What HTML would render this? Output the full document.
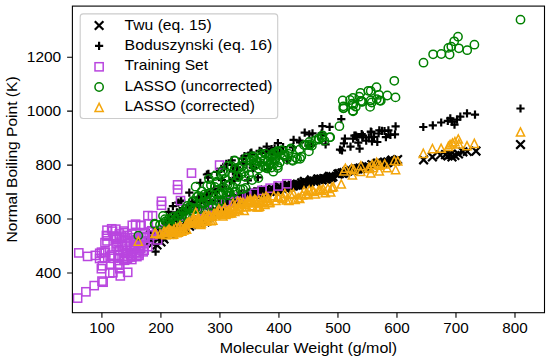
<!DOCTYPE html><html><head><meta charset="utf-8"><style>html,body{margin:0;padding:0;background:#fff;width:550px;height:360px;overflow:hidden}svg{display:block}text{font-family:"Liberation Sans",sans-serif}</style></head><body><svg width="550" height="360" viewBox="0 0 550 360"><rect width="550" height="360" fill="#fff"/><defs><clipPath id="c"><rect x="72.4" y="6.1" width="472.1" height="306.6"/></clipPath></defs><g clip-path="url(#c)"><g fill="none" stroke="#000000" stroke-width="2.2"><path d="M419.3 155.5L427.9 164.1M419.3 164.1L427.9 155.5"/><path d="M428.1 152.6L436.7 161.2M428.1 161.2L436.7 152.6"/><path d="M436.1 150.7L444.7 159.3M436.1 159.3L444.7 150.7"/><path d="M441.2 150.4L449.8 159.0M441.2 159.0L449.8 150.4"/><path d="M446.2 150.4L454.8 159.0M446.2 159.0L454.8 150.4"/><path d="M450.6 151.2L459.2 159.8M450.6 159.8L459.2 151.2"/><path d="M454.2 149.7L462.8 158.3M454.2 158.3L462.8 149.7"/><path d="M458.6 147.5L467.2 156.1M458.6 156.1L467.2 147.5"/><path d="M463.0 147.2L471.6 155.8M463.0 155.8L471.6 147.2"/><path d="M471.7 146.8L480.3 155.4M471.7 155.4L480.3 146.8"/><path d="M516.2 140.3L524.8 148.9M516.2 148.9L524.8 140.3"/><path d="M443.7 151.7L452.3 160.3M443.7 160.3L452.3 151.7"/><path d="M447.7 152.7L456.3 161.3M447.7 161.3L456.3 152.7"/><path d="M393.3 155.2L401.9 163.8M393.3 163.8L401.9 155.2"/><path d="M386.7 156.7L395.3 165.3M386.7 165.3L395.3 156.7"/><path d="M380.2 157.7L388.8 166.3M380.2 166.3L388.8 157.7"/><path d="M373.7 159.0L382.3 167.6M373.7 167.6L382.3 159.0"/><path d="M367.7 160.5L376.3 169.1M367.7 169.1L376.3 160.5"/><path d="M361.7 162.1L370.3 170.7M361.7 170.7L370.3 162.1"/><path d="M355.7 163.7L364.3 172.3M355.7 172.3L364.3 163.7"/><path d="M349.7 165.3L358.3 173.9M349.7 173.9L358.3 165.3"/><path d="M343.7 166.7L352.3 175.3M343.7 175.3L352.3 166.7"/><path d="M337.7 168.7L346.3 177.3M337.7 177.3L346.3 168.7"/><path d="M146.2 230.8L154.8 239.4M146.2 239.4L154.8 230.8"/><path d="M148.2 229.5L156.8 238.1M148.2 238.1L156.8 229.5"/><path d="M149.5 231.4L158.1 240.0M149.5 240.0L158.1 231.4"/><path d="M150.3 232.3L158.9 240.9M150.3 240.9L158.9 232.3"/><path d="M151.8 231.2L160.4 239.8M151.8 239.8L160.4 231.2"/><path d="M153.3 228.0L161.9 236.6M153.3 236.6L161.9 228.0"/><path d="M155.3 233.2L163.9 241.8M155.3 241.8L163.9 233.2"/><path d="M156.4 228.1L165.0 236.7M156.4 236.7L165.0 228.1"/><path d="M158.6 233.1L167.2 241.7M158.6 241.7L167.2 233.1"/><path d="M160.1 228.3L168.7 236.9M160.1 236.9L168.7 228.3"/><path d="M162.2 224.8L170.8 233.4M162.2 233.4L170.8 224.8"/><path d="M163.5 226.3L172.1 234.9M163.5 234.9L172.1 226.3"/><path d="M163.9 224.8L172.5 233.4M163.9 233.4L172.5 224.8"/><path d="M165.7 229.8L174.3 238.4M165.7 238.4L174.3 229.8"/><path d="M167.0 227.5L175.6 236.1M167.0 236.1L175.6 227.5"/><path d="M169.2 225.2L177.8 233.8M169.2 233.8L177.8 225.2"/><path d="M170.5 222.3L179.1 230.9M170.5 230.9L179.1 222.3"/><path d="M171.3 223.1L179.9 231.7M171.3 231.7L179.9 223.1"/><path d="M173.7 223.9L182.3 232.5M173.7 232.5L182.3 223.9"/><path d="M174.7 224.8L183.3 233.4M174.7 233.4L183.3 224.8"/><path d="M176.4 221.8L185.0 230.4M176.4 230.4L185.0 221.8"/><path d="M178.4 224.2L187.0 232.8M178.4 232.8L187.0 224.2"/><path d="M179.1 222.9L187.7 231.5M179.1 231.5L187.7 222.9"/><path d="M181.0 224.6L189.6 233.2M181.0 233.2L189.6 224.6"/><path d="M182.8 219.2L191.4 227.8M182.8 227.8L191.4 219.2"/><path d="M184.7 217.1L193.3 225.7M184.7 225.7L193.3 217.1"/><path d="M185.3 221.9L193.9 230.5M185.3 230.5L193.9 221.9"/><path d="M186.4 219.3L195.0 227.9M186.4 227.9L195.0 219.3"/><path d="M187.8 220.2L196.4 228.8M187.8 228.8L196.4 220.2"/><path d="M190.3 218.4L198.9 227.0M190.3 227.0L198.9 218.4"/><path d="M192.0 215.7L200.6 224.3M192.0 224.3L200.6 215.7"/><path d="M193.2 217.4L201.8 226.0M193.2 226.0L201.8 217.4"/><path d="M194.6 215.8L203.2 224.4M194.6 224.4L203.2 215.8"/><path d="M196.5 219.0L205.1 227.6M196.5 227.6L205.1 219.0"/><path d="M197.4 216.3L206.0 224.9M197.4 224.9L206.0 216.3"/><path d="M198.3 216.3L206.9 224.9M198.3 224.9L206.9 216.3"/><path d="M200.7 217.7L209.3 226.3M200.7 226.3L209.3 217.7"/><path d="M202.4 211.0L211.0 219.6M202.4 219.6L211.0 211.0"/><path d="M203.3 213.5L211.9 222.1M203.3 222.1L211.9 213.5"/><path d="M204.2 211.3L212.8 219.9M204.2 219.9L212.8 211.3"/><path d="M206.0 207.7L214.6 216.3M206.0 216.3L214.6 207.7"/><path d="M207.3 211.7L215.9 220.3M207.3 220.3L215.9 211.7"/><path d="M208.9 207.0L217.5 215.6M208.9 215.6L217.5 207.0"/><path d="M210.8 210.2L219.4 218.8M210.8 218.8L219.4 210.2"/><path d="M211.8 206.7L220.4 215.3M211.8 215.3L220.4 206.7"/><path d="M214.0 208.2L222.6 216.8M214.0 216.8L222.6 208.2"/><path d="M215.9 206.8L224.5 215.4M215.9 215.4L224.5 206.8"/><path d="M216.6 203.6L225.2 212.2M216.6 212.2L225.2 203.6"/><path d="M218.2 205.5L226.8 214.1M218.2 214.1L226.8 205.5"/><path d="M220.6 199.7L229.2 208.3M220.6 208.3L229.2 199.7"/><path d="M221.0 200.0L229.6 208.6M221.0 208.6L229.6 200.0"/><path d="M222.6 200.5L231.2 209.1M222.6 209.1L231.2 200.5"/><path d="M224.6 198.1L233.2 206.7M224.6 206.7L233.2 198.1"/><path d="M225.2 198.6L233.8 207.2M225.2 207.2L233.8 198.6"/><path d="M227.3 198.1L235.9 206.7M227.3 206.7L235.9 198.1"/><path d="M229.6 197.2L238.2 205.8M229.6 205.8L238.2 197.2"/><path d="M230.5 196.4L239.1 205.0M230.5 205.0L239.1 196.4"/><path d="M232.2 192.8L240.8 201.4M232.2 201.4L240.8 192.8"/><path d="M234.0 194.9L242.6 203.5M234.0 203.5L242.6 194.9"/><path d="M235.5 194.0L244.1 202.6M235.5 202.6L244.1 194.0"/><path d="M236.2 192.0L244.8 200.6M236.2 200.6L244.8 192.0"/><path d="M237.2 192.6L245.8 201.2M237.2 201.2L245.8 192.6"/><path d="M238.5 190.4L247.1 199.0M238.5 199.0L247.1 190.4"/><path d="M240.0 190.4L248.6 199.0M240.0 199.0L248.6 190.4"/><path d="M241.5 189.7L250.1 198.3M241.5 198.3L250.1 189.7"/><path d="M242.4 189.9L251.0 198.5M242.4 198.5L251.0 189.9"/><path d="M243.9 190.3L252.5 198.9M243.9 198.9L252.5 190.3"/><path d="M245.1 191.7L253.7 200.3M245.1 200.3L253.7 191.7"/><path d="M247.3 188.9L255.9 197.5M247.3 197.5L255.9 188.9"/><path d="M248.1 189.4L256.7 198.0M248.1 198.0L256.7 189.4"/><path d="M249.6 188.3L258.2 196.9M249.6 196.9L258.2 188.3"/><path d="M251.6 190.7L260.2 199.3M251.6 199.3L260.2 190.7"/><path d="M252.4 188.9L261.0 197.5M252.4 197.5L261.0 188.9"/><path d="M253.3 187.5L261.9 196.1M253.3 196.1L261.9 187.5"/><path d="M255.0 187.7L263.6 196.3M255.0 196.3L263.6 187.7"/><path d="M257.0 187.0L265.6 195.6M257.0 195.6L265.6 187.0"/><path d="M257.2 189.4L265.8 198.0M257.2 198.0L265.8 189.4"/><path d="M259.2 186.4L267.8 195.0M259.2 195.0L267.8 186.4"/><path d="M260.6 185.8L269.2 194.4M260.6 194.4L269.2 185.8"/><path d="M261.9 188.5L270.5 197.1M261.9 197.1L270.5 188.5"/><path d="M263.7 187.2L272.3 195.8M263.7 195.8L272.3 187.2"/><path d="M264.3 186.1L272.9 194.7M264.3 194.7L272.9 186.1"/><path d="M265.5 187.1L274.1 195.7M265.5 195.7L274.1 187.1"/><path d="M267.3 186.7L275.9 195.3M267.3 195.3L275.9 186.7"/><path d="M268.4 184.7L277.0 193.3M268.4 193.3L277.0 184.7"/><path d="M270.4 186.6L279.0 195.2M270.4 195.2L279.0 186.6"/><path d="M271.8 185.7L280.4 194.3M271.8 194.3L280.4 185.7"/><path d="M273.1 185.2L281.7 193.8M273.1 193.8L281.7 185.2"/><path d="M273.6 184.4L282.2 193.0M273.6 193.0L282.2 184.4"/><path d="M275.1 182.6L283.7 191.2M275.1 191.2L283.7 182.6"/><path d="M276.0 183.1L284.6 191.7M276.0 191.7L284.6 183.1"/><path d="M277.7 184.0L286.3 192.6M277.7 192.6L286.3 184.0"/><path d="M280.0 182.7L288.6 191.3M280.0 191.3L288.6 182.7"/><path d="M281.3 184.0L289.9 192.6M281.3 192.6L289.9 184.0"/><path d="M282.6 181.8L291.2 190.4M282.6 190.4L291.2 181.8"/><path d="M283.0 181.3L291.6 189.9M283.0 189.9L291.6 181.3"/><path d="M284.3 181.0L292.9 189.6M284.3 189.6L292.9 181.0"/><path d="M286.2 182.6L294.8 191.2M286.2 191.2L294.8 182.6"/><path d="M287.9 181.0L296.5 189.6M287.9 189.6L296.5 181.0"/><path d="M288.9 181.7L297.5 190.3M288.9 190.3L297.5 181.7"/><path d="M289.5 181.1L298.1 189.7M289.5 189.7L298.1 181.1"/><path d="M292.0 180.9L300.6 189.5M292.0 189.5L300.6 180.9"/><path d="M293.1 179.7L301.7 188.3M293.1 188.3L301.7 179.7"/><path d="M293.7 180.5L302.3 189.1M293.7 189.1L302.3 180.5"/><path d="M295.2 180.2L303.8 188.8M295.2 188.8L303.8 180.2"/><path d="M297.4 178.5L306.0 187.1M297.4 187.1L306.0 178.5"/><path d="M298.0 180.0L306.6 188.6M298.0 188.6L306.6 180.0"/><path d="M299.8 177.4L308.4 186.0M299.8 186.0L308.4 177.4"/><path d="M300.3 177.2L308.9 185.8M300.3 185.8L308.9 177.2"/><path d="M302.7 178.6L311.3 187.2M302.7 187.2L311.3 178.6"/><path d="M303.0 178.6L311.6 187.2M303.0 187.2L311.6 178.6"/><path d="M305.5 177.6L314.1 186.2M305.5 186.2L314.1 177.6"/><path d="M306.0 177.2L314.6 185.8M306.0 185.8L314.6 177.2"/><path d="M307.0 175.6L315.6 184.2M307.0 184.2L315.6 175.6"/><path d="M309.5 176.7L318.1 185.3M309.5 185.3L318.1 176.7"/><path d="M310.3 177.3L318.9 185.9M310.3 185.9L318.9 177.3"/><path d="M311.5 176.9L320.1 185.5M311.5 185.5L320.1 176.9"/><path d="M313.4 174.8L322.0 183.4M313.4 183.4L322.0 174.8"/><path d="M313.9 174.9L322.5 183.5M313.9 183.5L322.5 174.9"/><path d="M315.3 175.4L323.9 184.0M315.3 184.0L323.9 175.4"/><path d="M316.6 174.7L325.2 183.3M316.6 183.3L325.2 174.7"/><path d="M317.8 175.6L326.4 184.2M317.8 184.2L326.4 175.6"/><path d="M319.4 174.2L328.0 182.8M319.4 182.8L328.0 174.2"/><path d="M321.1 174.9L329.7 183.5M321.1 183.5L329.7 174.9"/><path d="M322.2 174.7L330.8 183.3M322.2 183.3L330.8 174.7"/><path d="M323.7 173.5L332.3 182.1M323.7 182.1L332.3 173.5"/><path d="M325.0 172.1L333.6 180.7M325.0 180.7L333.6 172.1"/><path d="M326.3 172.2L334.9 180.8M326.3 180.8L334.9 172.2"/><path d="M327.0 173.4L335.6 182.0M327.0 182.0L335.6 173.4"/><path d="M328.6 172.4L337.2 181.0M328.6 181.0L337.2 172.4"/><path d="M333.6 169.8L342.2 178.4M333.6 178.4L342.2 169.8"/><path d="M335.1 169.4L343.7 178.0M335.1 178.0L343.7 169.4"/><path d="M338.3 169.1L346.9 177.7M338.3 177.7L346.9 169.1"/><path d="M339.7 168.3L348.3 176.9M339.7 176.9L348.3 168.3"/><path d="M342.7 166.9L351.3 175.5M342.7 175.5L351.3 166.9"/><path d="M346.6 166.4L355.2 175.0M346.6 175.0L355.2 166.4"/><path d="M348.7 166.4L357.3 175.0M348.7 175.0L357.3 166.4"/><path d="M352.1 164.8L360.7 173.4M352.1 173.4L360.7 164.8"/><path d="M353.9 164.5L362.5 173.1M353.9 173.1L362.5 164.5"/><path d="M356.3 164.3L364.9 172.9M356.3 172.9L364.9 164.3"/><path d="M358.7 163.3L367.3 171.9M358.7 171.9L367.3 163.3"/><path d="M361.4 163.5L370.0 172.1M361.4 172.1L370.0 163.5"/><path d="M364.5 162.5L373.1 171.1M364.5 171.1L373.1 162.5"/><path d="M367.7 160.5L376.3 169.1M367.7 169.1L376.3 160.5"/><path d="M369.3 161.4L377.9 170.0M369.3 170.0L377.9 161.4"/><path d="M372.6 159.1L381.2 167.7M372.6 167.7L381.2 159.1"/><path d="M373.3 159.5L381.9 168.1M373.3 168.1L381.9 159.5"/><path d="M375.8 158.6L384.4 167.2M375.8 167.2L384.4 158.6"/><path d="M378.4 158.9L387.0 167.5M378.4 167.5L387.0 158.9"/><path d="M382.8 158.4L391.4 167.0M382.8 167.0L391.4 158.4"/><path d="M383.8 157.8L392.4 166.4M383.8 166.4L392.4 157.8"/><path d="M387.7 155.8L396.3 164.4M387.7 164.4L396.3 155.8"/><path d="M390.8 156.8L399.4 165.4M390.8 165.4L399.4 156.8"/><path d="M391.7 156.5L400.3 165.1M391.7 165.1L400.3 156.5"/><path d="M148.7 238.7L157.3 247.3M148.7 247.3L157.3 238.7"/><path d="M152.7 240.7L161.3 249.3M152.7 249.3L161.3 240.7"/><path d="M156.7 237.7L165.3 246.3M156.7 246.3L165.3 237.7"/><path d="M159.7 234.7L168.3 243.3M159.7 243.3L168.3 234.7"/><path d="M145.7 236.7L154.3 245.3M145.7 245.3L154.3 236.7"/></g><g fill="none" stroke="#000000" stroke-width="2.2"><path d="M419.2 127.0H427.4M423.3 122.9V131.1"/><path d="M428.7 125.3H436.9M432.8 121.2V129.4"/><path d="M437.1 122.5H445.3M441.2 118.4V126.6"/><path d="M443.7 120.8H451.9M447.8 116.7V124.9"/><path d="M446.2 118.3H454.4M450.3 114.2V122.4"/><path d="M447.9 121.7H456.1M452.0 117.6V125.8"/><path d="M450.4 124.7H458.6M454.5 120.6V128.8"/><path d="M452.9 119.7H461.1M457.0 115.6V123.8"/><path d="M456.2 116.7H464.4M460.3 112.6V120.8"/><path d="M462.9 113.3H471.1M467.0 109.2V117.4"/><path d="M470.9 114.7H479.1M475.0 110.6V118.8"/><path d="M516.4 108.5H524.6M520.5 104.4V112.6"/><path d="M337.2 119.2H345.4M341.3 115.1V123.3"/><path d="M391.5 126.4H399.7M395.6 122.3V130.5"/><path d="M390.9 134.3H399.1M395.0 130.2V138.4"/><path d="M384.3 130.3H392.5M388.4 126.2V134.4"/><path d="M380.4 131.0H388.6M384.5 126.9V135.1"/><path d="M375.2 130.3H383.4M379.3 126.2V134.4"/><path d="M366.7 131.6H374.9M370.8 127.5V135.7"/><path d="M358.8 135.6H367.0M362.9 131.5V139.7"/><path d="M350.3 135.6H358.5M354.4 131.5V139.7"/><path d="M337.9 150.5H346.1M342.0 146.4V154.6"/><path d="M339.8 143.3H348.0M343.9 139.2V147.4"/><path d="M346.4 146.6H354.6M350.5 142.5V150.7"/><path d="M349.0 138.7H357.2M353.1 134.6V142.8"/><path d="M351.6 135.5H359.8M355.7 131.4V139.6"/><path d="M354.2 142.7H362.4M358.3 138.6V146.8"/><path d="M355.5 148.6H363.7M359.6 144.5V152.7"/><path d="M358.2 137.4H366.4M362.3 133.3V141.5"/><path d="M362.1 140.7H370.3M366.2 136.6V144.8"/><path d="M364.7 137.4H372.9M368.8 133.3V141.5"/><path d="M367.3 132.2H375.5M371.4 128.1V136.3"/><path d="M369.9 136.8H378.1M374.0 132.7V140.9"/><path d="M373.2 142.0H381.4M377.3 137.9V146.1"/><path d="M374.5 133.5H382.7M378.6 129.4V137.6"/><path d="M377.8 130.9H386.0M381.9 126.8V135.0"/><path d="M318.3 126.2H326.5M322.4 122.1V130.3"/><path d="M325.5 126.8H333.7M329.6 122.7V130.9"/><path d="M300.6 132.7H308.8M304.7 128.6V136.8"/><path d="M305.2 134.3H313.4M309.3 130.2V138.4"/><path d="M308.4 133.4H316.6M312.5 129.3V137.5"/><path d="M317.6 133.4H325.8M321.7 129.3V137.5"/><path d="M289.5 139.9H297.7M293.6 135.8V144.0"/><path d="M295.4 140.6H303.6M299.5 136.5V144.7"/><path d="M273.8 143.2H282.0M277.9 139.1V147.3"/><path d="M321.5 144.4H329.7M325.6 140.3V148.5"/><path d="M296.0 142.4H304.2M300.1 138.3V146.5"/><path d="M270.5 148.3H278.7M274.6 144.2V152.4"/><path d="M279.0 147.0H287.2M283.1 142.9V151.1"/><path d="M335.9 149.6H344.1M340.0 145.5V153.7"/><path d="M267.2 151.0H275.4M271.3 146.9V155.1"/><path d="M240.4 156.2H248.6M244.5 152.1V160.3"/><path d="M255.5 150.9H263.7M259.6 146.8V155.0"/><path d="M212.9 171.9H221.1M217.0 167.8V176.0"/><path d="M151.5 251.7H159.7M155.6 247.6V255.8"/><path d="M168.8 206.2H177.0M172.9 202.1V210.3"/><path d="M176.8 201.1H185.0M180.9 197.0V205.2"/><path d="M164.5 211.8H172.7M168.6 207.7V215.9"/><path d="M174.2 202.7H182.4M178.3 198.6V206.8"/><path d="M177.1 200.6H185.3M181.2 196.5V204.7"/><path d="M185.2 192.7H193.4M189.3 188.6V196.8"/><path d="M196.2 182.9H204.4M200.3 178.8V187.0"/><path d="M202.8 174.5H211.0M206.9 170.4V178.6"/><path d="M203.9 177.7H212.1M208.0 173.6V181.8"/><path d="M217.2 168.9H225.4M221.3 164.8V173.0"/><path d="M222.2 163.9H230.4M226.3 159.8V168.0"/><path d="M227.9 164.8H236.1M232.0 160.7V168.9"/><path d="M238.1 158.5H246.3M242.2 154.4V162.6"/><path d="M246.3 153.3H254.5M250.4 149.2V157.4"/><path d="M247.3 152.7H255.5M251.4 148.6V156.8"/><path d="M257.4 151.6H265.6M261.5 147.5V155.7"/><path d="M267.5 149.0H275.7M271.6 144.9V153.1"/><path d="M162.0 224.0H170.2M166.1 219.9V228.1"/><path d="M163.3 221.9H171.5M167.4 217.8V226.0"/><path d="M164.3 222.8H172.5M168.4 218.7V226.9"/><path d="M166.3 222.7H174.5M170.4 218.6V226.8"/><path d="M168.6 216.9H176.8M172.7 212.8V221.0"/><path d="M169.4 216.0H177.6M173.5 211.9V220.1"/><path d="M172.0 217.9H180.2M176.1 213.8V222.0"/><path d="M172.8 212.4H181.0M176.9 208.3V216.5"/><path d="M175.1 215.2H183.3M179.2 211.1V219.3"/><path d="M176.5 211.2H184.7M180.6 207.1V215.3"/><path d="M178.6 208.0H186.8M182.7 203.9V212.1"/><path d="M179.7 211.3H187.9M183.8 207.2V215.4"/><path d="M182.5 211.4H190.7M186.6 207.3V215.5"/><path d="M184.0 208.9H192.2M188.1 204.8V213.0"/><path d="M184.6 206.2H192.8M188.7 202.1V210.3"/><path d="M187.5 209.2H195.7M191.6 205.1V213.3"/><path d="M188.1 201.6H196.3M192.2 197.5V205.7"/><path d="M190.1 207.4H198.3M194.2 203.3V211.5"/><path d="M191.6 201.8H199.8M195.7 197.7V205.9"/><path d="M193.7 208.3H201.9M197.8 204.2V212.4"/><path d="M194.6 197.3H202.8M198.7 193.2V201.4"/><path d="M196.5 200.7H204.7M200.6 196.6V204.8"/><path d="M198.7 196.5H206.9M202.8 192.4V200.6"/><path d="M200.6 202.8H208.8M204.7 198.7V206.9"/><path d="M201.7 194.5H209.9M205.8 190.4V198.6"/><path d="M204.2 194.5H212.4M208.3 190.4V198.6"/><path d="M205.6 192.3H213.8M209.7 188.2V196.4"/><path d="M206.3 200.6H214.5M210.4 196.5V204.7"/><path d="M208.1 203.2H216.3M212.2 199.1V207.3"/><path d="M210.1 188.5H218.3M214.2 184.4V192.6"/><path d="M211.3 192.0H219.5M215.4 187.9V196.1"/><path d="M213.7 201.2H221.9M217.8 197.1V205.3"/><path d="M214.5 189.6H222.7M218.6 185.5V193.7"/><path d="M216.3 200.8H224.5M220.4 196.7V204.9"/><path d="M217.8 180.2H226.0M221.9 176.1V184.3"/><path d="M219.3 186.7H227.5M223.4 182.6V190.8"/><path d="M222.4 196.6H230.6M226.5 192.5V200.7"/><path d="M223.8 198.9H232.0M227.9 194.8V203.0"/><path d="M225.8 181.2H234.0M229.9 177.1V185.3"/><path d="M226.2 196.5H234.4M230.3 192.4V200.6"/><path d="M228.8 171.3H237.0M232.9 167.2V175.4"/><path d="M230.3 179.7H238.5M234.4 175.6V183.8"/><path d="M231.5 177.7H239.7M235.6 173.6V181.8"/><path d="M232.8 167.4H241.0M236.9 163.3V171.5"/><path d="M234.7 176.3H242.9M238.8 172.2V180.4"/><path d="M239.1 162.6H247.3M243.2 158.5V166.7"/><path d="M242.4 163.9H250.6M246.5 159.8V168.0"/><path d="M243.8 180.4H252.0M247.9 176.3V184.5"/><path d="M248.6 167.5H256.8M252.7 163.4V171.6"/><path d="M249.4 168.2H257.6M253.5 164.1V172.3"/><path d="M253.8 177.3H262.0M257.9 173.2V181.4"/><path d="M256.5 162.5H264.7M260.6 158.4V166.6"/><path d="M262.2 152.8H270.4M266.3 148.7V156.9"/><path d="M263.9 169.1H272.1M268.0 165.0V173.2"/><path d="M268.5 151.1H276.7M272.6 147.0V155.2"/><path d="M269.3 151.2H277.5M273.4 147.1V155.3"/><path d="M275.6 152.7H283.8M279.7 148.6V156.8"/><path d="M283.1 160.5H291.3M287.2 156.4V164.6"/><path d="M288.8 147.3H297.0M292.9 143.2V151.4"/><path d="M304.3 145.6H312.5M308.4 141.5V149.7"/><path d="M307.2 145.6H315.4M311.3 141.5V149.7"/><path d="M317.3 134.8H325.5M321.4 130.7V138.9"/><path d="M340.8 138.6H349.0M344.9 134.5V142.7"/><path d="M352.7 136.9H360.9M356.8 132.8V141.0"/><path d="M357.6 134.0H365.8M361.7 129.9V138.1"/><path d="M367.9 141.3H376.1M372.0 137.2V145.4"/><path d="M381.8 137.1H390.0M385.9 133.0V141.2"/><path d="M386.3 134.8H394.5M390.4 130.7V138.9"/><path d="M219.8 168.1H228.0M223.9 164.0V172.2"/><path d="M227.6 160.3H235.8M231.7 156.2V164.4"/><path d="M247.1 154.5H255.3M251.2 150.4V158.6"/><path d="M262.6 146.7H270.8M266.7 142.6V150.8"/><path d="M204.3 173.9H212.5M208.4 169.8V178.0"/></g><g fill="none" stroke="#b945df" stroke-width="1.5"><rect x="215.5" y="161.0" width="8.2" height="8.2"/><rect x="187.4" y="169.0" width="8.2" height="8.2"/><rect x="173.5" y="180.8" width="8.2" height="8.2"/><rect x="173.5" y="185.4" width="8.2" height="8.2"/><rect x="157.4" y="197.2" width="8.2" height="8.2"/><rect x="157.4" y="201.1" width="8.2" height="8.2"/><rect x="176.4" y="196.5" width="8.2" height="8.2"/><rect x="143.8" y="211.5" width="8.2" height="8.2"/><rect x="148.4" y="211.7" width="8.2" height="8.2"/><rect x="282.7" y="179.7" width="8.2" height="8.2"/><rect x="274.0" y="181.9" width="8.2" height="8.2"/><rect x="266.0" y="184.1" width="8.2" height="8.2"/><rect x="258.0" y="186.3" width="8.2" height="8.2"/><rect x="250.0" y="189.2" width="8.2" height="8.2"/><rect x="242.7" y="191.4" width="8.2" height="8.2"/><rect x="73.5" y="294.0" width="8.2" height="8.2"/><rect x="81.8" y="287.7" width="8.2" height="8.2"/><rect x="90.1" y="281.5" width="8.2" height="8.2"/><rect x="97.9" y="277.0" width="8.2" height="8.2"/><rect x="99.0" y="278.1" width="8.2" height="8.2"/><rect x="97.3" y="264.6" width="8.2" height="8.2"/><rect x="106.8" y="260.1" width="8.2" height="8.2"/><rect x="105.7" y="269.0" width="8.2" height="8.2"/><rect x="115.7" y="264.6" width="8.2" height="8.2"/><rect x="116.2" y="271.8" width="8.2" height="8.2"/><rect x="74.7" y="248.8" width="8.2" height="8.2"/><rect x="83.5" y="252.3" width="8.2" height="8.2"/><rect x="91.2" y="251.3" width="8.2" height="8.2"/><rect x="100.0" y="248.4" width="8.2" height="8.2"/><rect x="102.9" y="226.1" width="8.2" height="8.2"/><rect x="111.7" y="225.1" width="8.2" height="8.2"/><rect x="119.5" y="227.0" width="8.2" height="8.2"/><rect x="128.2" y="221.2" width="8.2" height="8.2"/><rect x="136.9" y="221.2" width="8.2" height="8.2"/><rect x="102.9" y="231.9" width="8.2" height="8.2"/><rect x="102.9" y="236.8" width="8.2" height="8.2"/><rect x="101.3" y="248.1" width="8.2" height="8.2"/><rect x="130.5" y="238.7" width="8.2" height="8.2"/><rect x="130.2" y="240.6" width="8.2" height="8.2"/><rect x="139.6" y="233.5" width="8.2" height="8.2"/><rect x="115.1" y="261.0" width="8.2" height="8.2"/><rect x="119.7" y="228.6" width="8.2" height="8.2"/><rect x="136.5" y="221.6" width="8.2" height="8.2"/><rect x="140.8" y="232.9" width="8.2" height="8.2"/><rect x="127.7" y="255.4" width="8.2" height="8.2"/><rect x="129.4" y="242.7" width="8.2" height="8.2"/><rect x="123.6" y="268.2" width="8.2" height="8.2"/><rect x="102.3" y="231.4" width="8.2" height="8.2"/><rect x="131.5" y="220.1" width="8.2" height="8.2"/><rect x="100.9" y="238.5" width="8.2" height="8.2"/><rect x="107.5" y="251.0" width="8.2" height="8.2"/><rect x="127.9" y="230.1" width="8.2" height="8.2"/><rect x="129.8" y="245.0" width="8.2" height="8.2"/><rect x="108.5" y="227.1" width="8.2" height="8.2"/><rect x="100.3" y="254.0" width="8.2" height="8.2"/><rect x="117.4" y="233.4" width="8.2" height="8.2"/><rect x="95.5" y="254.4" width="8.2" height="8.2"/><rect x="126.4" y="238.2" width="8.2" height="8.2"/><rect x="131.1" y="243.3" width="8.2" height="8.2"/><rect x="108.8" y="268.6" width="8.2" height="8.2"/><rect x="97.4" y="248.1" width="8.2" height="8.2"/><rect x="117.6" y="232.0" width="8.2" height="8.2"/><rect x="98.2" y="261.7" width="8.2" height="8.2"/><rect x="95.6" y="249.2" width="8.2" height="8.2"/><rect x="147.6" y="226.7" width="8.2" height="8.2"/><rect x="106.1" y="252.3" width="8.2" height="8.2"/><rect x="123.3" y="254.2" width="8.2" height="8.2"/><rect x="140.4" y="228.5" width="8.2" height="8.2"/><rect x="112.2" y="235.4" width="8.2" height="8.2"/><rect x="136.6" y="244.5" width="8.2" height="8.2"/><rect x="136.4" y="243.8" width="8.2" height="8.2"/><rect x="107.6" y="224.7" width="8.2" height="8.2"/><rect x="113.7" y="260.1" width="8.2" height="8.2"/><rect x="134.8" y="233.5" width="8.2" height="8.2"/><rect x="125.9" y="242.9" width="8.2" height="8.2"/><rect x="139.1" y="247.7" width="8.2" height="8.2"/><rect x="109.8" y="254.2" width="8.2" height="8.2"/><rect x="148.9" y="230.8" width="8.2" height="8.2"/><rect x="144.2" y="219.7" width="8.2" height="8.2"/><rect x="109.5" y="231.9" width="8.2" height="8.2"/><rect x="136.7" y="236.9" width="8.2" height="8.2"/><rect x="140.9" y="237.1" width="8.2" height="8.2"/><rect x="119.8" y="255.0" width="8.2" height="8.2"/><rect x="132.7" y="248.4" width="8.2" height="8.2"/><rect x="127.4" y="252.9" width="8.2" height="8.2"/><rect x="126.3" y="249.4" width="8.2" height="8.2"/><rect x="130.7" y="236.4" width="8.2" height="8.2"/><rect x="118.9" y="246.2" width="8.2" height="8.2"/><rect x="123.3" y="231.3" width="8.2" height="8.2"/><rect x="134.8" y="246.6" width="8.2" height="8.2"/><rect x="134.9" y="249.7" width="8.2" height="8.2"/><rect x="114.1" y="245.2" width="8.2" height="8.2"/><rect x="123.9" y="252.2" width="8.2" height="8.2"/><rect x="114.1" y="253.8" width="8.2" height="8.2"/><rect x="115.4" y="233.3" width="8.2" height="8.2"/><rect x="132.8" y="252.5" width="8.2" height="8.2"/><rect x="132.7" y="235.8" width="8.2" height="8.2"/><rect x="115.2" y="229.9" width="8.2" height="8.2"/><rect x="136.9" y="233.3" width="8.2" height="8.2"/><rect x="122.4" y="240.0" width="8.2" height="8.2"/><rect x="112.6" y="234.9" width="8.2" height="8.2"/><rect x="121.2" y="249.1" width="8.2" height="8.2"/><rect x="124.0" y="236.8" width="8.2" height="8.2"/><rect x="143.7" y="242.5" width="8.2" height="8.2"/><rect x="140.0" y="246.1" width="8.2" height="8.2"/><rect x="112.9" y="239.7" width="8.2" height="8.2"/><rect x="126.3" y="250.9" width="8.2" height="8.2"/><rect x="123.3" y="248.7" width="8.2" height="8.2"/><rect x="129.7" y="233.6" width="8.2" height="8.2"/><rect x="140.4" y="229.7" width="8.2" height="8.2"/><rect x="139.0" y="232.2" width="8.2" height="8.2"/><rect x="111.9" y="233.2" width="8.2" height="8.2"/><rect x="112.0" y="242.1" width="8.2" height="8.2"/><rect x="128.1" y="251.6" width="8.2" height="8.2"/><rect x="118.0" y="242.2" width="8.2" height="8.2"/><rect x="123.4" y="252.7" width="8.2" height="8.2"/><rect x="120.5" y="256.2" width="8.2" height="8.2"/><rect x="121.3" y="233.6" width="8.2" height="8.2"/><rect x="135.0" y="242.3" width="8.2" height="8.2"/><rect x="115.5" y="246.6" width="8.2" height="8.2"/><rect x="114.6" y="251.3" width="8.2" height="8.2"/><rect x="134.9" y="251.3" width="8.2" height="8.2"/><rect x="132.6" y="237.9" width="8.2" height="8.2"/><rect x="162.3" y="226.8" width="8.2" height="8.2"/><rect x="180.0" y="220.6" width="8.2" height="8.2"/><rect x="179.9" y="219.4" width="8.2" height="8.2"/><rect x="156.3" y="228.1" width="8.2" height="8.2"/><rect x="160.4" y="225.4" width="8.2" height="8.2"/><rect x="153.5" y="235.8" width="8.2" height="8.2"/><rect x="154.0" y="227.7" width="8.2" height="8.2"/><rect x="152.4" y="228.1" width="8.2" height="8.2"/><rect x="190.9" y="209.4" width="8.2" height="8.2"/><rect x="192.6" y="209.2" width="8.2" height="8.2"/><rect x="201.0" y="209.1" width="8.2" height="8.2"/><rect x="203.6" y="204.2" width="8.2" height="8.2"/><rect x="209.7" y="202.8" width="8.2" height="8.2"/><rect x="216.8" y="199.2" width="8.2" height="8.2"/><rect x="221.3" y="197.6" width="8.2" height="8.2"/><rect x="230.6" y="196.9" width="8.2" height="8.2"/><rect x="231.3" y="197.9" width="8.2" height="8.2"/><rect x="236.9" y="192.7" width="8.2" height="8.2"/></g><g fill="none" stroke="#008000" stroke-width="1.5"><circle cx="520.5" cy="19.7" r="4.15"/><circle cx="423.5" cy="62.7" r="4.15"/><circle cx="433.1" cy="54.3" r="4.15"/><circle cx="441.3" cy="54.0" r="4.15"/><circle cx="449.6" cy="54.5" r="4.15"/><circle cx="448.3" cy="47.9" r="4.15"/><circle cx="451.3" cy="46.6" r="4.15"/><circle cx="454.2" cy="41.3" r="4.15"/><circle cx="458.0" cy="36.7" r="4.15"/><circle cx="458.9" cy="48.3" r="4.15"/><circle cx="467.2" cy="50.2" r="4.15"/><circle cx="474.4" cy="44.7" r="4.15"/><circle cx="394.3" cy="80.8" r="4.15"/><circle cx="395.5" cy="97.4" r="4.15"/><circle cx="387.3" cy="95.5" r="4.15"/><circle cx="379.0" cy="94.8" r="4.15"/><circle cx="379.6" cy="100.5" r="4.15"/><circle cx="376.5" cy="87.2" r="4.15"/><circle cx="370.7" cy="91.0" r="4.15"/><circle cx="370.7" cy="100.5" r="4.15"/><circle cx="370.1" cy="106.9" r="4.15"/><circle cx="360.5" cy="92.9" r="4.15"/><circle cx="359.3" cy="96.7" r="4.15"/><circle cx="361.8" cy="101.8" r="4.15"/><circle cx="352.9" cy="98.0" r="4.15"/><circle cx="352.3" cy="103.7" r="4.15"/><circle cx="352.9" cy="110.7" r="4.15"/><circle cx="342.7" cy="100.5" r="4.15"/><circle cx="343.4" cy="106.3" r="4.15"/><circle cx="343.9" cy="108.1" r="4.15"/><circle cx="353.1" cy="111.4" r="4.15"/><circle cx="360.9" cy="100.9" r="4.15"/><circle cx="339.4" cy="126.2" r="4.15"/><circle cx="322.4" cy="135.3" r="4.15"/><circle cx="329.6" cy="137.3" r="4.15"/><circle cx="318.4" cy="138.6" r="4.15"/><circle cx="309.3" cy="141.9" r="4.15"/><circle cx="330.2" cy="137.2" r="4.15"/><circle cx="321.7" cy="137.9" r="4.15"/><circle cx="311.9" cy="145.7" r="4.15"/><circle cx="309.3" cy="144.4" r="4.15"/><circle cx="304.0" cy="145.1" r="4.15"/><circle cx="300.1" cy="158.8" r="4.15"/><circle cx="299.5" cy="149.6" r="4.15"/><circle cx="292.3" cy="160.1" r="4.15"/><circle cx="291.0" cy="148.3" r="4.15"/><circle cx="288.3" cy="153.6" r="4.15"/><circle cx="284.4" cy="156.2" r="4.15"/><circle cx="281.8" cy="150.3" r="4.15"/><circle cx="277.9" cy="168.0" r="4.15"/><circle cx="273.9" cy="164.0" r="4.15"/><circle cx="272.6" cy="156.2" r="4.15"/><circle cx="234.7" cy="160.8" r="4.15"/><circle cx="234.7" cy="168.6" r="4.15"/><circle cx="242.5" cy="166.0" r="4.15"/><circle cx="252.4" cy="156.2" r="4.15"/><circle cx="253.7" cy="163.4" r="4.15"/><circle cx="260.2" cy="158.1" r="4.15"/><circle cx="265.4" cy="153.6" r="4.15"/><circle cx="268.1" cy="161.4" r="4.15"/><circle cx="138.3" cy="235.6" r="4.15"/><circle cx="155.0" cy="224.4" r="4.15"/><circle cx="163.0" cy="216.0" r="4.15"/><circle cx="154.6" cy="223.7" r="4.15"/><circle cx="343.3" cy="108.3" r="4.15"/><circle cx="350.0" cy="100.0" r="4.15"/><circle cx="353.3" cy="105.0" r="4.15"/><circle cx="355.8" cy="106.7" r="4.15"/><circle cx="368.3" cy="90.8" r="4.15"/><circle cx="371.7" cy="102.5" r="4.15"/><circle cx="376.7" cy="99.2" r="4.15"/><circle cx="380.8" cy="100.8" r="4.15"/><circle cx="362.5" cy="101.7" r="4.15"/><circle cx="160.0" cy="224.8" r="4.15"/><circle cx="163.2" cy="223.1" r="4.15"/><circle cx="164.9" cy="219.2" r="4.15"/><circle cx="165.4" cy="221.4" r="4.15"/><circle cx="168.3" cy="223.1" r="4.15"/><circle cx="169.0" cy="218.8" r="4.15"/><circle cx="170.7" cy="219.6" r="4.15"/><circle cx="173.2" cy="216.8" r="4.15"/><circle cx="174.7" cy="219.7" r="4.15"/><circle cx="176.4" cy="219.3" r="4.15"/><circle cx="177.7" cy="216.0" r="4.15"/><circle cx="178.9" cy="215.8" r="4.15"/><circle cx="181.3" cy="213.0" r="4.15"/><circle cx="182.0" cy="217.3" r="4.15"/><circle cx="183.7" cy="211.9" r="4.15"/><circle cx="185.1" cy="214.8" r="4.15"/><circle cx="187.2" cy="216.7" r="4.15"/><circle cx="189.8" cy="215.4" r="4.15"/><circle cx="190.4" cy="208.7" r="4.15"/><circle cx="191.8" cy="210.8" r="4.15"/><circle cx="194.5" cy="209.1" r="4.15"/><circle cx="195.4" cy="208.4" r="4.15"/><circle cx="197.7" cy="208.9" r="4.15"/><circle cx="199.6" cy="209.2" r="4.15"/><circle cx="201.1" cy="203.3" r="4.15"/><circle cx="203.1" cy="203.6" r="4.15"/><circle cx="204.3" cy="203.6" r="4.15"/><circle cx="206.2" cy="201.3" r="4.15"/><circle cx="207.1" cy="201.3" r="4.15"/><circle cx="208.6" cy="206.1" r="4.15"/><circle cx="211.0" cy="200.2" r="4.15"/><circle cx="212.3" cy="205.8" r="4.15"/><circle cx="214.2" cy="197.7" r="4.15"/><circle cx="216.3" cy="200.9" r="4.15"/><circle cx="218.3" cy="194.4" r="4.15"/><circle cx="219.1" cy="201.3" r="4.15"/><circle cx="221.4" cy="201.2" r="4.15"/><circle cx="221.7" cy="194.7" r="4.15"/><circle cx="223.5" cy="192.7" r="4.15"/><circle cx="226.6" cy="195.4" r="4.15"/><circle cx="228.2" cy="192.4" r="4.15"/><circle cx="229.8" cy="192.4" r="4.15"/><circle cx="230.4" cy="195.7" r="4.15"/><circle cx="233.2" cy="187.0" r="4.15"/><circle cx="234.3" cy="192.1" r="4.15"/><circle cx="185.5" cy="208.8" r="4.15"/><circle cx="187.4" cy="206.0" r="4.15"/><circle cx="189.7" cy="206.8" r="4.15"/><circle cx="192.6" cy="201.1" r="4.15"/><circle cx="193.4" cy="201.5" r="4.15"/><circle cx="196.8" cy="197.0" r="4.15"/><circle cx="198.2" cy="196.0" r="4.15"/><circle cx="201.2" cy="197.1" r="4.15"/><circle cx="201.8" cy="191.3" r="4.15"/><circle cx="204.6" cy="194.5" r="4.15"/><circle cx="207.2" cy="185.7" r="4.15"/><circle cx="208.3" cy="193.9" r="4.15"/><circle cx="210.9" cy="185.2" r="4.15"/><circle cx="212.7" cy="195.4" r="4.15"/><circle cx="214.8" cy="186.9" r="4.15"/><circle cx="217.0" cy="182.6" r="4.15"/><circle cx="220.1" cy="192.4" r="4.15"/><circle cx="221.2" cy="175.2" r="4.15"/><circle cx="224.0" cy="173.2" r="4.15"/><circle cx="224.6" cy="188.1" r="4.15"/><circle cx="227.5" cy="184.6" r="4.15"/><circle cx="229.6" cy="185.0" r="4.15"/><circle cx="231.8" cy="166.5" r="4.15"/><circle cx="232.9" cy="175.1" r="4.15"/><circle cx="235.8" cy="191.4" r="4.15"/><circle cx="236.3" cy="181.1" r="4.15"/><circle cx="237.8" cy="176.3" r="4.15"/><circle cx="238.7" cy="168.4" r="4.15"/><circle cx="240.4" cy="189.3" r="4.15"/><circle cx="241.0" cy="174.4" r="4.15"/><circle cx="243.1" cy="189.1" r="4.15"/><circle cx="243.5" cy="161.3" r="4.15"/><circle cx="245.6" cy="187.9" r="4.15"/><circle cx="246.2" cy="158.0" r="4.15"/><circle cx="247.9" cy="167.9" r="4.15"/><circle cx="249.1" cy="174.7" r="4.15"/><circle cx="250.2" cy="159.9" r="4.15"/><circle cx="251.3" cy="161.5" r="4.15"/><circle cx="252.1" cy="180.1" r="4.15"/><circle cx="253.7" cy="159.6" r="4.15"/><circle cx="254.2" cy="165.9" r="4.15"/><circle cx="255.7" cy="164.9" r="4.15"/><circle cx="256.5" cy="160.7" r="4.15"/><circle cx="258.4" cy="178.1" r="4.15"/><circle cx="258.7" cy="168.7" r="4.15"/><circle cx="260.8" cy="153.9" r="4.15"/><circle cx="262.0" cy="155.7" r="4.15"/><circle cx="262.9" cy="166.6" r="4.15"/><circle cx="264.2" cy="159.9" r="4.15"/><circle cx="265.1" cy="166.5" r="4.15"/><circle cx="266.3" cy="167.8" r="4.15"/><circle cx="267.5" cy="162.0" r="4.15"/><circle cx="268.2" cy="165.9" r="4.15"/><circle cx="269.9" cy="156.5" r="4.15"/><circle cx="271.4" cy="167.6" r="4.15"/><circle cx="272.3" cy="154.7" r="4.15"/><circle cx="273.5" cy="153.0" r="4.15"/><circle cx="274.2" cy="159.1" r="4.15"/><circle cx="275.4" cy="158.9" r="4.15"/><circle cx="277.1" cy="151.1" r="4.15"/><circle cx="278.4" cy="151.6" r="4.15"/><circle cx="279.7" cy="162.6" r="4.15"/><circle cx="281.7" cy="150.5" r="4.15"/><circle cx="284.9" cy="154.7" r="4.15"/><circle cx="289.7" cy="150.0" r="4.15"/><circle cx="292.7" cy="160.9" r="4.15"/><circle cx="295.5" cy="157.4" r="4.15"/><circle cx="297.1" cy="158.9" r="4.15"/><circle cx="301.3" cy="156.6" r="4.15"/><circle cx="306.0" cy="145.0" r="4.15"/><circle cx="308.9" cy="151.4" r="4.15"/><circle cx="309.8" cy="145.0" r="4.15"/><circle cx="315.3" cy="140.3" r="4.15"/><circle cx="319.1" cy="139.6" r="4.15"/><circle cx="322.1" cy="137.3" r="4.15"/><circle cx="324.4" cy="140.7" r="4.15"/><circle cx="195.6" cy="186.7" r="4.15"/><circle cx="209.0" cy="179.0" r="4.15"/><circle cx="215.0" cy="176.0" r="4.15"/><circle cx="222.5" cy="171.0" r="4.15"/><circle cx="228.0" cy="166.0" r="4.15"/><circle cx="234.5" cy="160.4" r="4.15"/><circle cx="224.8" cy="178.9" r="4.15"/><circle cx="216.7" cy="181.6" r="4.15"/><circle cx="238.3" cy="177.0" r="4.15"/><circle cx="244.2" cy="171.7" r="4.15"/><circle cx="245.0" cy="176.7" r="4.15"/><circle cx="253.3" cy="157.5" r="4.15"/><circle cx="266.7" cy="168.3" r="4.15"/><circle cx="270.0" cy="163.3" r="4.15"/><circle cx="275.0" cy="154.2" r="4.15"/><circle cx="277.5" cy="165.8" r="4.15"/><circle cx="283.3" cy="155.0" r="4.15"/><circle cx="286.7" cy="159.2" r="4.15"/><circle cx="273.3" cy="171.7" r="4.15"/></g><g fill="none" stroke="#f4a60c" stroke-width="1.5" stroke-linejoin="miter"><path d="M423.3 149.2L419.2 157.4L427.4 157.4Z"/><path d="M432.4 144.5L428.3 152.7L436.5 152.7Z"/><path d="M441.1 144.1L437.0 152.3L445.2 152.3Z"/><path d="M448.4 142.2L444.3 150.4L452.5 150.4Z"/><path d="M450.1 140.4L446.0 148.6L454.2 148.6Z"/><path d="M452.5 138.9L448.4 147.1L456.6 147.1Z"/><path d="M454.9 137.5L450.8 145.7L459.0 145.7Z"/><path d="M458.3 134.9L454.2 143.1L462.4 143.1Z"/><path d="M458.8 139.7L454.7 147.9L462.9 147.9Z"/><path d="M467.0 141.6L462.9 149.8L471.1 149.8Z"/><path d="M474.3 139.3L470.2 147.5L478.4 147.5Z"/><path d="M520.5 127.9L516.4 136.1L524.6 136.1Z"/><path d="M394.3 156.4L390.2 164.6L398.4 164.6Z"/><path d="M395.6 165.5L391.5 173.7L399.7 173.7Z"/><path d="M387.1 163.6L383.0 171.8L391.2 171.8Z"/><path d="M378.0 160.3L373.9 168.5L382.1 168.5Z"/><path d="M376.6 158.3L372.5 166.5L380.7 166.5Z"/><path d="M379.3 166.9L375.2 175.1L383.4 175.1Z"/><path d="M372.1 160.3L368.0 168.5L376.2 168.5Z"/><path d="M370.8 168.8L366.7 177.0L374.9 177.0Z"/><path d="M369.5 164.2L365.4 172.4L373.6 172.4Z"/><path d="M360.9 161.6L356.8 169.8L365.0 169.8Z"/><path d="M353.7 165.5L349.6 173.7L357.8 173.7Z"/><path d="M352.4 170.8L348.3 179.0L356.5 179.0Z"/><path d="M343.9 166.8L339.8 175.0L348.0 175.0Z"/><path d="M341.3 179.9L337.2 188.1L345.4 188.1Z"/><path d="M138.3 237.0L134.2 245.2L142.4 245.2Z"/><path d="M155.0 229.2L150.9 237.4L159.1 237.4Z"/><path d="M155.3 228.7L151.2 236.9L159.4 236.9Z"/><path d="M195.8 208.1L191.7 216.3L199.9 216.3Z"/><path d="M164.4 228.7L160.3 236.9L168.5 236.9Z"/><path d="M165.8 230.5L161.7 238.7L169.9 238.7Z"/><path d="M165.9 228.0L161.8 236.2L170.0 236.2Z"/><path d="M167.1 227.2L163.0 235.4L171.2 235.4Z"/><path d="M167.7 226.9L163.6 235.1L171.8 235.1Z"/><path d="M169.1 224.6L165.0 232.8L173.2 232.8Z"/><path d="M169.8 227.2L165.7 235.4L173.9 235.4Z"/><path d="M170.2 226.4L166.1 234.6L174.3 234.6Z"/><path d="M171.6 227.3L167.5 235.5L175.7 235.5Z"/><path d="M172.0 230.3L167.9 238.5L176.1 238.5Z"/><path d="M173.5 230.0L169.4 238.2L177.6 238.2Z"/><path d="M173.8 225.1L169.7 233.3L177.9 233.3Z"/><path d="M174.6 228.4L170.5 236.6L178.7 236.6Z"/><path d="M175.7 223.5L171.6 231.7L179.8 231.7Z"/><path d="M176.7 228.6L172.6 236.8L180.8 236.8Z"/><path d="M178.0 223.5L173.9 231.7L182.1 231.7Z"/><path d="M178.3 228.1L174.2 236.3L182.4 236.3Z"/><path d="M179.5 226.1L175.4 234.3L183.6 234.3Z"/><path d="M180.0 221.2L175.9 229.4L184.1 229.4Z"/><path d="M181.4 223.3L177.3 231.5L185.5 231.5Z"/><path d="M181.7 227.0L177.6 235.2L185.8 235.2Z"/><path d="M183.1 225.4L179.0 233.6L187.2 233.6Z"/><path d="M183.5 225.7L179.4 233.9L187.6 233.9Z"/><path d="M184.4 225.4L180.3 233.6L188.5 233.6Z"/><path d="M185.6 220.9L181.5 229.1L189.7 229.1Z"/><path d="M186.6 225.1L182.5 233.3L190.7 233.3Z"/><path d="M187.2 218.6L183.1 226.8L191.3 226.8Z"/><path d="M188.3 219.0L184.2 227.2L192.4 227.2Z"/><path d="M188.8 218.2L184.7 226.4L192.9 226.4Z"/><path d="M189.7 218.2L185.6 226.4L193.8 226.4Z"/><path d="M190.8 218.5L186.7 226.7L194.9 226.7Z"/><path d="M192.1 217.9L188.0 226.1L196.2 226.1Z"/><path d="M192.7 216.7L188.6 224.9L196.8 224.9Z"/><path d="M193.5 215.1L189.4 223.3L197.6 223.3Z"/><path d="M194.3 214.7L190.2 222.9L198.4 222.9Z"/><path d="M195.6 218.6L191.5 226.8L199.7 226.8Z"/><path d="M196.0 217.8L191.9 226.0L200.1 226.0Z"/><path d="M197.5 214.0L193.4 222.2L201.6 222.2Z"/><path d="M198.3 216.5L194.2 224.7L202.4 224.7Z"/><path d="M198.9 219.7L194.8 227.9L203.0 227.9Z"/><path d="M199.7 216.6L195.6 224.8L203.8 224.8Z"/><path d="M200.8 220.3L196.7 228.5L204.9 228.5Z"/><path d="M201.4 218.7L197.3 226.9L205.5 226.9Z"/><path d="M202.6 216.6L198.5 224.8L206.7 224.8Z"/><path d="M203.2 213.8L199.1 222.0L207.3 222.0Z"/><path d="M203.8 211.6L199.7 219.8L207.9 219.8Z"/><path d="M204.7 216.7L200.6 224.9L208.8 224.9Z"/><path d="M205.7 211.1L201.6 219.3L209.8 219.3Z"/><path d="M206.5 217.0L202.4 225.2L210.6 225.2Z"/><path d="M208.1 214.9L204.0 223.1L212.2 223.1Z"/><path d="M208.4 210.8L204.3 219.0L212.5 219.0Z"/><path d="M209.3 212.4L205.2 220.6L213.4 220.6Z"/><path d="M210.1 212.0L206.0 220.2L214.2 220.2Z"/><path d="M211.0 216.5L206.9 224.7L215.1 224.7Z"/><path d="M212.6 212.1L208.5 220.3L216.7 220.3Z"/><path d="M212.8 216.0L208.7 224.2L216.9 224.2Z"/><path d="M213.7 209.8L209.6 218.0L217.8 218.0Z"/><path d="M214.4 209.8L210.3 218.0L218.5 218.0Z"/><path d="M215.7 210.5L211.6 218.7L219.8 218.7Z"/><path d="M216.3 210.3L212.2 218.5L220.4 218.5Z"/><path d="M217.0 207.7L212.9 215.9L221.1 215.9Z"/><path d="M218.0 208.7L213.9 216.9L222.1 216.9Z"/><path d="M218.8 204.6L214.7 212.8L222.9 212.8Z"/><path d="M219.9 206.3L215.8 214.5L224.0 214.5Z"/><path d="M221.1 208.8L217.0 217.0L225.2 217.0Z"/><path d="M222.1 209.7L218.0 217.9L226.2 217.9Z"/><path d="M222.9 211.7L218.8 219.9L227.0 219.9Z"/><path d="M223.5 205.8L219.4 214.0L227.6 214.0Z"/><path d="M224.9 203.5L220.8 211.7L229.0 211.7Z"/><path d="M225.6 208.3L221.5 216.5L229.7 216.5Z"/><path d="M225.9 210.2L221.8 218.4L230.0 218.4Z"/><path d="M227.5 207.5L223.4 215.7L231.6 215.7Z"/><path d="M228.2 209.2L224.1 217.4L232.3 217.4Z"/><path d="M228.6 206.0L224.5 214.2L232.7 214.2Z"/><path d="M229.8 208.9L225.7 217.1L233.9 217.1Z"/><path d="M231.0 208.4L226.9 216.6L235.1 216.6Z"/><path d="M231.6 208.9L227.5 217.1L235.7 217.1Z"/><path d="M232.6 206.4L228.5 214.6L236.7 214.6Z"/><path d="M233.1 199.0L229.0 207.2L237.2 207.2Z"/><path d="M233.9 202.3L229.8 210.5L238.0 210.5Z"/><path d="M234.8 207.2L230.7 215.4L238.9 215.4Z"/><path d="M236.0 204.6L231.9 212.8L240.1 212.8Z"/><path d="M237.0 204.9L232.9 213.1L241.1 213.1Z"/><path d="M237.7 197.4L233.6 205.6L241.8 205.6Z"/><path d="M238.9 205.2L234.8 213.4L243.0 213.4Z"/><path d="M239.5 202.8L235.4 211.0L243.6 211.0Z"/><path d="M240.5 197.5L236.4 205.7L244.6 205.7Z"/><path d="M241.5 199.3L237.4 207.5L245.6 207.5Z"/><path d="M241.8 199.4L237.7 207.6L245.9 207.6Z"/><path d="M243.3 198.4L239.2 206.6L247.4 206.6Z"/><path d="M244.2 206.4L240.1 214.6L248.3 214.6Z"/><path d="M244.8 200.0L240.7 208.2L248.9 208.2Z"/><path d="M245.7 202.9L241.6 211.1L249.8 211.1Z"/><path d="M246.8 202.0L242.7 210.2L250.9 210.2Z"/><path d="M247.6 196.2L243.5 204.4L251.7 204.4Z"/><path d="M248.0 197.9L243.9 206.1L252.1 206.1Z"/><path d="M249.5 198.1L245.4 206.3L253.6 206.3Z"/><path d="M250.2 195.0L246.1 203.2L254.3 203.2Z"/><path d="M250.6 197.5L246.5 205.7L254.7 205.7Z"/><path d="M252.0 201.5L247.9 209.7L256.1 209.7Z"/><path d="M252.9 197.3L248.8 205.5L257.0 205.5Z"/><path d="M253.7 198.8L249.6 207.0L257.8 207.0Z"/><path d="M254.5 195.2L250.4 203.4L258.6 203.4Z"/><path d="M255.8 195.7L251.7 203.9L259.9 203.9Z"/><path d="M256.7 202.8L252.6 211.0L260.8 211.0Z"/><path d="M256.8 198.1L252.7 206.3L260.9 206.3Z"/><path d="M258.4 202.7L254.3 210.9L262.5 210.9Z"/><path d="M258.9 195.7L254.8 203.9L263.0 203.9Z"/><path d="M259.6 202.1L255.5 210.3L263.7 210.3Z"/><path d="M260.5 198.4L256.4 206.6L264.6 206.6Z"/><path d="M261.3 197.7L257.2 205.9L265.4 205.9Z"/><path d="M262.9 193.6L258.8 201.8L267.0 201.8Z"/><path d="M263.7 197.0L259.6 205.2L267.8 205.2Z"/><path d="M264.6 198.6L260.5 206.8L268.7 206.8Z"/><path d="M264.9 200.3L260.8 208.5L269.0 208.5Z"/><path d="M266.0 191.9L261.9 200.1L270.1 200.1Z"/><path d="M266.5 196.1L262.4 204.3L270.6 204.3Z"/><path d="M267.7 194.1L263.6 202.3L271.8 202.3Z"/><path d="M268.4 194.4L264.3 202.6L272.5 202.6Z"/><path d="M269.4 198.6L265.3 206.8L273.5 206.8Z"/><path d="M270.0 197.7L265.9 205.9L274.1 205.9Z"/><path d="M273.7 191.5L269.6 199.7L277.8 199.7Z"/><path d="M275.9 196.4L271.8 204.6L280.0 204.6Z"/><path d="M277.9 192.4L273.8 200.6L282.0 200.6Z"/><path d="M278.9 193.1L274.8 201.3L283.0 201.3Z"/><path d="M282.2 194.3L278.1 202.5L286.3 202.5Z"/><path d="M282.9 192.8L278.8 201.0L287.0 201.0Z"/><path d="M284.8 189.3L280.7 197.5L288.9 197.5Z"/><path d="M286.5 195.8L282.4 204.0L290.6 204.0Z"/><path d="M288.9 196.2L284.8 204.4L293.0 204.4Z"/><path d="M290.8 190.3L286.7 198.5L294.9 198.5Z"/><path d="M293.4 189.3L289.3 197.5L297.5 197.5Z"/><path d="M295.1 195.4L291.0 203.6L299.2 203.6Z"/><path d="M298.2 193.7L294.1 201.9L302.3 201.9Z"/><path d="M299.7 194.3L295.6 202.5L303.8 202.5Z"/><path d="M302.4 190.8L298.3 199.0L306.5 199.0Z"/><path d="M304.0 186.7L299.9 194.9L308.1 194.9Z"/><path d="M306.0 189.4L301.9 197.6L310.1 197.6Z"/><path d="M308.1 190.5L304.0 198.7L312.2 198.7Z"/><path d="M309.2 185.9L305.1 194.1L313.3 194.1Z"/><path d="M312.5 186.0L308.4 194.2L316.6 194.2Z"/><path d="M313.6 187.3L309.5 195.5L317.7 195.5Z"/><path d="M315.3 189.7L311.2 197.9L319.4 197.9Z"/><path d="M318.7 185.9L314.6 194.1L322.8 194.1Z"/><path d="M320.1 185.9L316.0 194.1L324.2 194.1Z"/><path d="M321.9 186.2L317.8 194.4L326.0 194.4Z"/><path d="M323.2 184.6L319.1 192.8L327.3 192.8Z"/><path d="M325.3 188.6L321.2 196.8L329.4 196.8Z"/><path d="M327.9 184.2L323.8 192.4L332.0 192.4Z"/><path d="M330.7 187.9L326.6 196.1L334.8 196.1Z"/><path d="M331.9 183.1L327.8 191.3L336.0 191.3Z"/><path d="M333.4 182.6L329.3 190.8L337.5 190.8Z"/><path d="M345.4 164.1L341.3 172.3L349.5 172.3Z"/><path d="M351.5 164.3L347.4 172.5L355.6 172.5Z"/><path d="M360.7 167.2L356.6 175.4L364.8 175.4Z"/><path d="M368.8 163.0L364.7 171.2L372.9 171.2Z"/><path d="M373.3 163.2L369.2 171.4L377.4 171.4Z"/><path d="M380.0 161.0L375.9 169.2L384.1 169.2Z"/><path d="M384.7 159.9L380.6 168.1L388.8 168.1Z"/><path d="M397.8 156.9L393.7 165.1L401.9 165.1Z"/><path d="M160.0 229.9L155.9 238.1L164.1 238.1Z"/><path d="M164.0 226.9L159.9 235.1L168.1 235.1Z"/></g></g><rect x="72.4" y="6.1" width="472.1" height="306.6" fill="none" stroke="#000" stroke-width="1.1"/><path d="M101.91 312.7v5.1M160.92 312.7v5.1M219.93 312.7v5.1M278.94 312.7v5.1M337.96 312.7v5.1M396.97 312.7v5.1M455.98 312.7v5.1M514.99 312.7v5.1M72.4 273.00h-5.3M72.4 219.05h-5.3M72.4 165.10h-5.3M72.4 111.15h-5.3M72.4 57.20h-5.3" stroke="#000" stroke-width="1.1" fill="none"/><g font-size="14.5" fill="#000"><text x="101.91" y="332.9" text-anchor="middle" textLength="25.4" lengthAdjust="spacingAndGlyphs">100</text><text x="160.92" y="332.9" text-anchor="middle" textLength="25.4" lengthAdjust="spacingAndGlyphs">200</text><text x="219.93" y="332.9" text-anchor="middle" textLength="25.4" lengthAdjust="spacingAndGlyphs">300</text><text x="278.94" y="332.9" text-anchor="middle" textLength="25.4" lengthAdjust="spacingAndGlyphs">400</text><text x="337.96" y="332.9" text-anchor="middle" textLength="25.4" lengthAdjust="spacingAndGlyphs">500</text><text x="396.97" y="332.9" text-anchor="middle" textLength="25.4" lengthAdjust="spacingAndGlyphs">600</text><text x="455.98" y="332.9" text-anchor="middle" textLength="25.4" lengthAdjust="spacingAndGlyphs">700</text><text x="514.99" y="332.9" text-anchor="middle" textLength="25.4" lengthAdjust="spacingAndGlyphs">800</text><text x="35.40" y="278.00" textLength="25.8" lengthAdjust="spacingAndGlyphs">400</text><text x="35.40" y="224.05" textLength="25.8" lengthAdjust="spacingAndGlyphs">600</text><text x="35.40" y="170.10" textLength="25.8" lengthAdjust="spacingAndGlyphs">800</text><text x="26.80" y="116.15" textLength="34.4" lengthAdjust="spacingAndGlyphs">1000</text><text x="26.80" y="62.20" textLength="34.4" lengthAdjust="spacingAndGlyphs">1200</text><text x="308.45" y="352.6" text-anchor="middle" textLength="177.5" lengthAdjust="spacingAndGlyphs">Molecular Weight (g/mol)</text><text transform="translate(17.0 159.40) rotate(-90)" x="0" y="0" text-anchor="middle" textLength="166" lengthAdjust="spacingAndGlyphs">Normal Boiling Point (K)</text></g><rect x="80.2" y="13.9" width="197.5" height="104.6" rx="3" ry="3" fill="#fff" fill-opacity="0.8" stroke="#cccccc" stroke-width="1.1"/><g fill="none" stroke="#000000" stroke-width="2.2"><path d="M94.8 21.2L103.4 29.8M94.8 29.8L103.4 21.2"/><path d="M95.0 45.9H103.2M99.1 41.8V50.0"/></g><g fill="none" stroke="#b945df" stroke-width="1.5"><rect x="95.0" y="62.7" width="8.2" height="8.2"/></g><g fill="none" stroke="#008000" stroke-width="1.5"><circle cx="99.1" cy="87.0" r="4.15"/></g><g fill="none" stroke="#f4a60c" stroke-width="1.5"><path d="M99.1 103.3L95.0 111.5L103.2 111.5Z"/></g><g font-size="14.5" fill="#000"><text x="124.6" y="29.50" textLength="87.0" lengthAdjust="spacingAndGlyphs">Twu (eq. 15)</text><text x="124.6" y="49.93" textLength="147.8" lengthAdjust="spacingAndGlyphs">Boduszynski (eq. 16)</text><text x="124.6" y="70.36" textLength="83.5" lengthAdjust="spacingAndGlyphs">Training Set</text><text x="124.6" y="90.79" textLength="147.8" lengthAdjust="spacingAndGlyphs">LASSO (uncorrected)</text><text x="124.6" y="111.22" textLength="130.2" lengthAdjust="spacingAndGlyphs">LASSO (corrected)</text></g></svg></body></html>
